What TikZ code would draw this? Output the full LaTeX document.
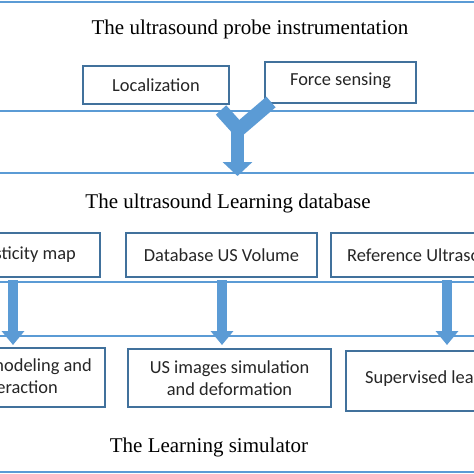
\documentclass[tikz,border=0pt]{standalone}
\usepackage{fontspec}
\setmainfont{Liberation Serif}
\newfontfamily\calib{Carlito}
\usetikzlibrary{arrows.meta}
\definecolor{linecol}{HTML}{5B9BD5}
\definecolor{boxcol}{HTML}{41719C}
\definecolor{txtcol}{HTML}{262626}
\tikzset{
  section/.style={draw=linecol, line width=2pt, minimum width=520pt, inner sep=0pt},
  box/.style={draw=boxcol, line width=1.8pt, fill=white, inner sep=0pt, font=\calib\fontsize{18.4}{22}\selectfont, text=txtcol, align=center},
  boxtxt/.style={inner sep=0pt, font=\calib\fontsize{18.4}{22}\selectfont, text=txtcol},
  ttl/.style={inner sep=0pt, anchor=base, font=\fontsize{21}{25}\selectfont, text=black},
  fatarrow/.style={draw=linecol, line width=10pt, -{Triangle[width=22pt,length=14pt]}, linecol},
  yarm/.style={draw=linecol, line width=14pt, line cap=butt},
  ystem/.style={draw=linecol, line width=13pt, -{Triangle[width=29pt,length=14pt]}, linecol}
}
\begin{document}
\begin{tikzpicture}[x=1pt, y=-1pt]
\useasboundingbox (0,0) rectangle (474,474);
\clip (0,0) rectangle (474,474);
\fill[white] (0,0) rectangle (474,474);
% sections
\node[section, minimum height=109pt] (sec1) at (237,56.5) {};
\node[section, minimum height=109pt] (sec2) at (237,227.5) {};
\node[section, minimum height=136pt] (sec3) at (237,404) {};
% titles
\node[ttl] (t1) at (250,34) {The ultrasound probe instrumentation};
\node[ttl] (t2) at (228,208) {The ultrasound Learning database};
\node[ttl] (t3) at (209,452) {The Learning simulator};
% row 1
\node[box, minimum width=146pt, minimum height=38pt] (loc) at (156,85) {Localization};
\node[box, minimum width=151pt, minimum height=41pt, text depth=6pt] (force) at (340.5,82.5) {Force sensing};
% row 2
\node[box, minimum width=150pt, minimum height=44pt] (elast) at (25,255) {};
\node[boxtxt, anchor=east] (elasttxt) at (76,255) {Elasticity map};
\node[box, minimum width=191pt, minimum height=44pt] (dbvol) at (221.5,255) {Database US Volume};
\node[box, minimum width=209pt, minimum height=44pt] (refus) at (435.5,255) {};
\node[boxtxt, anchor=west] (refustxt) at (347,255) {Reference Ultrasound};
% row 3
\node[box, minimum width=165pt, minimum height=59pt] (tissue) at (22.5,377.5) {};
\node[boxtxt, anchor=base east] (tis1) at (92,371) {modeling and};
\node[boxtxt, anchor=base east] (tis2) at (58,393) {interaction};
\node[box, minimum width=203pt, minimum height=58pt] (usim) at (229.5,378) {US images simulation\\and deformation};
\node[box, minimum width=200pt, minimum height=60pt] (superv) at (446,381) {};
\node[boxtxt, anchor=west] (supervtxt) at (365,379) {Supervised learning};
% Y arrow
\coordinate (yl) at (221,110);
\coordinate (yr) at (271,102);
\coordinate (yj1) at (239,130);
\coordinate (yj2) at (236,132);
\coordinate (ys) at (237.5,125);
\coordinate (ye) at (237.5,176);
\draw[yarm] (yl) -- (yj1);
\draw[yarm] (yr) -- (yj2);
\draw[ystem] (ys) -- (ye);
% down arrows
\coordinate (a1s) at (13,280);
\coordinate (a1e) at (13,345);
\coordinate (a2s) at (222,280);
\coordinate (a2e) at (222,345);
\coordinate (a3s) at (447,280);
\coordinate (a3e) at (447,345);
\draw[fatarrow] (a1s) -- (a1e);
\draw[fatarrow] (a2s) -- (a2e);
\draw[fatarrow] (a3s) -- (a3e);
\end{tikzpicture}
\end{document}
